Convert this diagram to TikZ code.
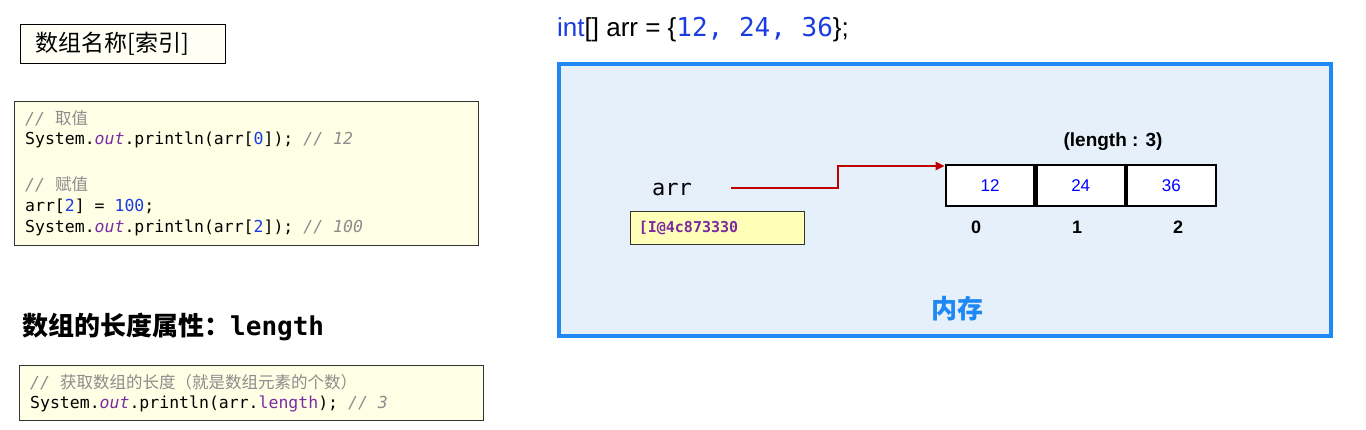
\documentclass[tikz,border=0pt]{standalone}
\usepackage{fontspec}
\setmainfont{Liberation Sans}
\setmonofont{DejaVu Sans Mono}
\newfontfamily\cjk{Noto Sans CJK SC}
\usetikzlibrary{arrows.meta}
\definecolor{codebg}{HTML}{FFFFE6}
\definecolor{cm}{HTML}{8C8C8C}
\definecolor{numb}{HTML}{1A3CE0}
\definecolor{purp}{HTML}{7B2BA0}
\definecolor{membg}{HTML}{E6F0FB}
\definecolor{memb}{HTML}{1E88F5}
\definecolor{darr}{HTML}{C00000}
\begin{document}
\begin{tikzpicture}[x=1pt,y=-1pt,
  codebox/.style={draw=black!80,line width=1pt,fill=codebg},
  codeline/.style={anchor=west,inner sep=0pt,font=\ttfamily\fontsize{16.5}{16.5}\selectfont},
  cell/.style={draw=black,line width=2.2pt,fill=white,minimum width=88.5pt,minimum height=41pt,inner sep=0pt,text=blue,font=\fontsize{17}{17}\selectfont},
  idx/.style={font=\bfseries\fontsize{18}{18}\selectfont}]
\useasboundingbox (0,0) rectangle (1366,429);
% top-left label
\node[draw=black,line width=1pt,fill=codebg!40,minimum width=205pt,minimum height=39pt,font=\cjk\fontsize{23}{23}\selectfont] (lab) at (122.5,43.5) {\hspace{-20pt}数组名称[索引]};
% code box 1
\draw[codebox] (14,101) rectangle (478,245);
\node[codeline,text=cm] (c1) at (25,118) {\itshape // {\cjk 取值}};
\node[codeline] (c2) at (25,140) {System.{\color{purp}\itshape out}.println(arr[{\color{numb}0}]); {\color{cm}\itshape // 12}};
\node[codeline,text=cm] (c3) at (25,184) {\itshape // {\cjk 赋值}};
\node[codeline] (c4) at (25,206) {arr[{\color{numb}2}] = {\color{numb}100};};
\node[codeline] (c5) at (25,228) {System.{\color{purp}\itshape out}.println(arr[{\color{numb}2}]); {\color{cm}\itshape // 100}};
% heading
\node[anchor=west,inner sep=0pt,font=\fontsize{26}{26}\selectfont] (h) at (22,327) {{\cjk\bfseries 数组的长度属性：}\ttfamily\bfseries length};
% code box 2
\draw[codebox] (19,365) rectangle (483,420);
\node[codeline,text=cm] (d1) at (30,382) {\itshape // {\cjk 获取数组的长度（就是数组元素的个数）}};
\node[codeline] (d2) at (30,404) {System.{\color{purp}\itshape out}.println(arr.{\color{purp}length}); {\color{cm}\itshape // 3}};
% title
\node[anchor=west,inner sep=0pt,font=\fontsize{26}{26}\selectfont] (t) at (557,30) {{\color{numb}int}[] arr = \{{\ttfamily\color{numb}12, 24, 36}\};};
% memory
\draw[draw=memb,line width=3.5pt,fill=membg] (559,64) rectangle (1331,336);
\node[font=\cjk\bfseries\fontsize{26}{26}\selectfont,text=memb] (mem) at (957,309) {内存};
\node[anchor=west,inner sep=0pt,font=\ttfamily\fontsize{22}{22}\selectfont] (arr) at (652,189) {arr};
\node[draw=black!80,line width=1pt,fill=codebg!80!yellow,minimum width=174pt,minimum height=33pt,anchor=west,inner sep=0pt,font=\ttfamily\bfseries\fontsize{15}{15}\selectfont,text=purp] (addr) at (630,227.5) {\hspace{-58pt}[I@4c873330};
\node[cell] (a0) at (990,185.5) {12};
\node[cell,anchor=west] (a1) at (a0.east) {24};
\node[cell,anchor=west] (a2) at (a1.east) {36};
\node[idx] (i0) at (976,227) {0};
\node[idx] (i1) at (1077,227) {1};
\node[idx] (i2) at (1178,227) {2};
\node[font=\bfseries\fontsize{19}{19}\selectfont] (len) at (1113,142) {(length : 3)};
\coordinate (s) at (731,188);
\draw[darr,line width=2.4pt,-{Triangle[length=9pt,width=8pt]}] (s) -- (838,188) -- (838,166) -- (a0.north west|-0,166);
\end{tikzpicture}
\end{document}
